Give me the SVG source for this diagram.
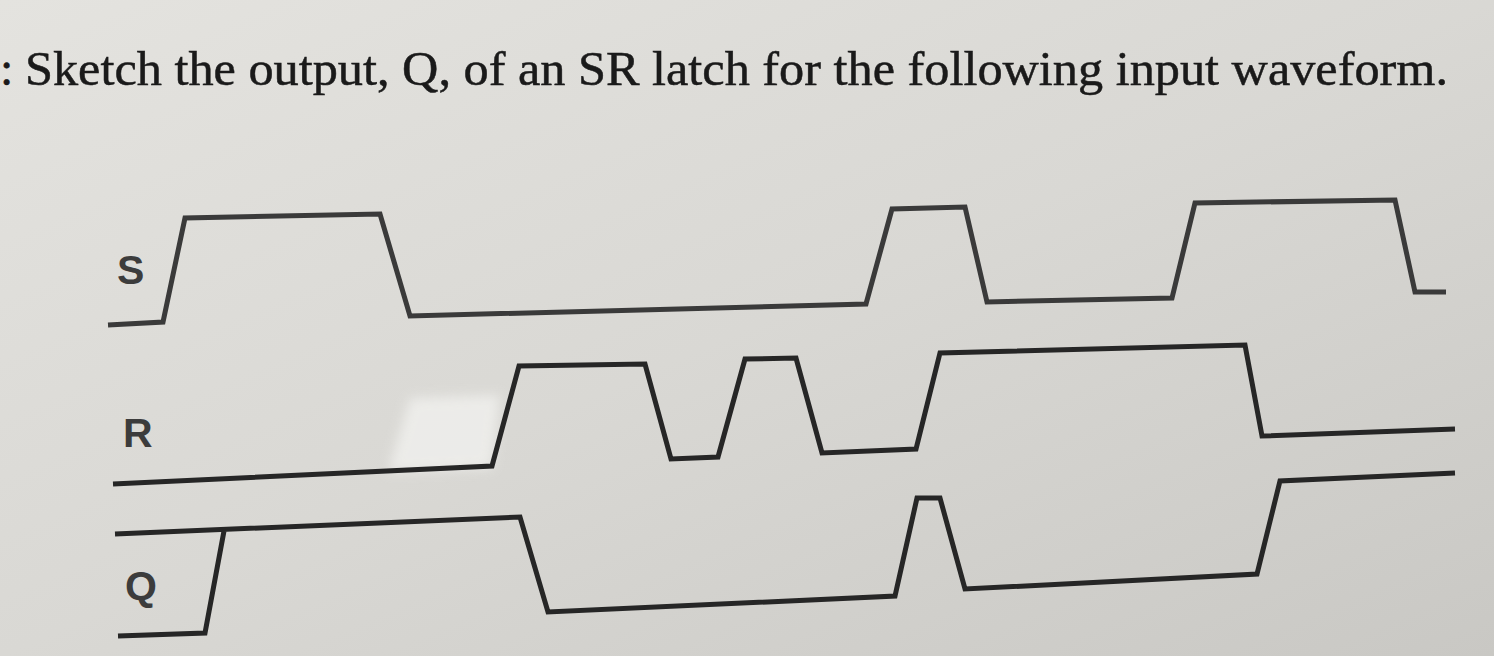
<svg xmlns="http://www.w3.org/2000/svg" width="1494" height="656" viewBox="0 0 1494 656">
  <defs>
    <linearGradient id="bg" x1="0" y1="0" x2="1" y2="1">
      <stop offset="0" stop-color="#e4e3df"/>
      <stop offset="0.5" stop-color="#d9d8d4"/>
      <stop offset="1" stop-color="#c9c8c4"/>
    </linearGradient>
    <filter id="blur" x="-20%" y="-20%" width="140%" height="140%">
      <feGaussianBlur stdDeviation="6"/>
    </filter>
  </defs>
  <style>
    .title { font-family: "Liberation Serif", "Times New Roman", serif; font-size: 48px; fill: #1a1a1a; stroke: #1a1a1a; stroke-width: 0.5; }
    .lbl { font-family: "Liberation Sans", Arial, sans-serif; font-size: 41px; font-weight: bold; fill: #3c3c3c; }
    .wave { fill: none; stroke: #262626; stroke-width: 5; stroke-linejoin: miter; stroke-linecap: butt; }
    .waveS { stroke: #3a3a3a; }
  </style>
  <rect x="0" y="0" width="1494" height="656" fill="url(#bg)"/>
  <path d="M410,398 L500,395 L492,468 L388,472 Z" fill="#f4f4f2" opacity="0.7" filter="url(#blur)"/>

  <text class="title" x="0" y="85">:</text>
  <text class="title" x="25" y="85" textLength="1423" lengthAdjust="spacingAndGlyphs">Sketch the output, Q, of an SR latch for the following input waveform.</text>

  <g id="S">
    <text class="lbl" x="117" y="284">S</text>
    <polyline class="wave waveS" points="108,325 163,322 185,218 380,214 410,316 866,304 892,209 965,207 987,302 1172,298 1195,203 1395,200 1415,292 1446,292"/>
  </g>

  <g id="R">
    <text class="lbl" x="123" y="447">R</text>
    <polyline class="wave" points="113,484 492,466 519,366 645,364 671,459 718,457 745,359 796,358 822,453 916,449 940,353 1245,345 1262,436 1455,429"/>
  </g>

  <g id="Q">
    <text class="lbl" x="125" y="600">Q</text>
    <polyline class="wave" points="115,534 520,517 548,612 895,596 917,498 940,498 965,589 1257,574 1280,481 1455,473"/>
    <polyline class="wave" points="118,636 205,633 224,531"/>
  </g>
</svg>
